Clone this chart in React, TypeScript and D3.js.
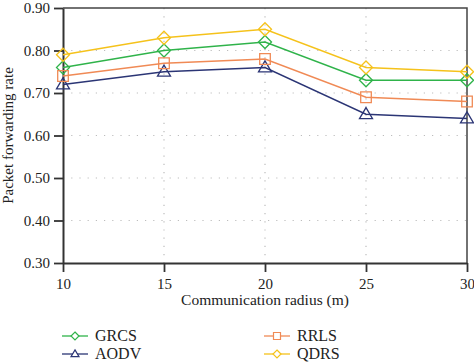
import * as React from "react";
import { useEffect, useRef } from "react";
import { select, scaleLinear, axisLeft, axisBottom, line } from "d3";

const radius = [10, 15, 20, 25, 30];
const grcs = [0.76, 0.8, 0.82, 0.73, 0.73];
const aodv = [0.72, 0.75, 0.76, 0.65, 0.64];
const rrls = [0.74, 0.77, 0.78, 0.69, 0.68];
const qdrs = [0.79, 0.83, 0.85, 0.76, 0.75];
const yTicks = [0.3, 0.4, 0.5, 0.6, 0.7, 0.8, 0.9];

const series = [
  { name: "GRCS", values: grcs, color: "#2fb34a", shape: "diamond" },
  { name: "AODV", values: aodv, color: "#2b3575", shape: "triangle" },
  { name: "RRLS", values: rrls, color: "#f08a55", shape: "square" },
  { name: "QDRS", values: qdrs, color: "#f5c21b", shape: "diamond" },
];
// legend: two columns
const legendPos = [
  { col: 0, row: 0 },
  { col: 0, row: 1 },
  { col: 1, row: 0 },
  { col: 1, row: 1 },
];

const FONT = "Liberation Serif, Times New Roman, serif";

// marker outline centred on 0,0 with half-width r
function markerPath(shape: string, r: number) {
  if (shape === "square") return `M${-r},${-r}H${r}V${r}H${-r}Z`;
  if (shape === "triangle") {
    const h = r * 1.7;
    return `M0,${-h * 0.6}L${r},${h * 0.4}H${-r}Z`;
  }
  return `M0,${-r}L${r},0L0,${r}L${-r},0Z`;
}

function App() {
  const svgRef = useRef<SVGSVGElement>(null);

  useEffect(() => {
    const svg = select(svgRef.current);
    svg.selectAll("*").remove();

    const left = 63, right = 467, top = 8, bottom = 263;
    const x = scaleLinear().domain([10, 30]).range([left, right]);
    const y = scaleLinear().domain([0.3, 0.9]).range([bottom, top]);

    // dotted grid
    const grid = svg.append("g");
    grid.selectAll(".gy")
      .data(yTicks.slice(1, -1))
      .join("line")
      .attr("x1", left).attr("x2", right)
      .attr("y1", (d) => y(d)).attr("y2", (d) => y(d))
      .attr("stroke", "#bdbdbd").attr("stroke-width", 1.2)
      .attr("stroke-dasharray", "1.2,7");
    grid.selectAll(".gx")
      .data(radius.slice(1, -1))
      .join("line")
      .attr("x1", (d) => x(d)).attr("x2", (d) => x(d))
      .attr("y1", top).attr("y2", bottom)
      .attr("stroke", "#bdbdbd").attr("stroke-width", 1.2)
      .attr("stroke-dasharray", "1.2,7");

    svg.append("path")
      .attr("d", `M${left},${top}H${right}V${bottom}`)
      .attr("fill", "none").attr("stroke", "#444").attr("stroke-width", 1.5);

    const yAxis: any = axisLeft(y).tickValues(yTicks).tickFormat((d: any) => d.toFixed(2)).tickSize(9).tickSizeOuter(0);
    const gy = svg.append("g").attr("transform", `translate(${left},0)`).call(yAxis);
    const xAxis: any = axisBottom(x).tickValues(radius).tickSize(9).tickSizeOuter(0);
    const gx = svg.append("g").attr("transform", `translate(0,${bottom})`).call(xAxis);
    [gy, gx].forEach((g) => {
      g.attr("font-family", null).attr("font-size", null);
      g.select(".domain").attr("stroke", "#333").attr("stroke-width", 2);
      g.selectAll(".tick line").attr("stroke", "#333").attr("stroke-width", 1.8);
      g.selectAll(".tick text").style("font-family", FONT).style("font-size", "15px").attr("fill", "#222");
    });
    gy.selectAll(".tick text").attr("x", -13);
    gx.selectAll(".tick text").attr("y", 15);

    svg.append("text")
      .attr("x", (left + right) / 2).attr("y", 305)
      .attr("text-anchor", "middle")
      .style("font-family", FONT).style("font-size", "15.5px").attr("fill", "#222")
      .text("Communication radius (m)");
    svg.append("text")
      .attr("transform", `translate(13,${(top + bottom) / 2}) rotate(-90)`)
      .attr("text-anchor", "middle")
      .style("font-family", FONT).style("font-size", "15px").attr("fill", "#222")
      .text("Packet forwarding rate");

    const ln = line<number>()
      .x((_, i) => x(radius[i]))
      .y((d) => y(d));

    series.forEach((s) => {
      const g = svg.append("g");
      g.append("path").attr("d", ln(s.values)).attr("fill", "none")
        .attr("stroke", s.color).attr("stroke-width", 1.4);
      const r = s.shape === "square" ? 5.3 : 6.5;
      g.selectAll("path.m")
        .data(s.values)
        .join("path")
        .attr("class", "m")
        .attr("transform", (d, i) => `translate(${x(radius[i])},${y(d)})`)
        .attr("d", markerPath(s.shape, r))
        .attr("fill", "none")
        .attr("stroke", s.color).attr("stroke-width", 1.3);
    });

    series.forEach((s, i) => {
      const p = legendPos[i];
      const lx = p.col === 0 ? 62 : 264;
      const ly = 336 + p.row * 18;
      const g = svg.append("g");
      g.append("line").attr("x1", lx).attr("x2", lx + 26).attr("y1", ly).attr("y2", ly)
        .attr("stroke", s.color).attr("stroke-width", 1.3);
      g.append("path")
        .attr("transform", `translate(${lx + 13},${ly})`)
        .attr("d", markerPath(s.shape, s.shape === "square" ? 3.5 : 4))
        .attr("fill", "#fff").attr("stroke", s.color).attr("stroke-width", 1.2);
      g.append("text").attr("x", lx + 33).attr("y", ly + 5)
        .style("font-family", FONT).style("font-size", "16px").attr("fill", "#222")
        .text(s.name);
    });
  }, []);

  return (
    <svg
      ref={svgRef}
      width={474}
      height={364}
      style={{ position: "absolute", left: 0, top: 0, background: "#fff" }}
    />
  );
}

export default App;
